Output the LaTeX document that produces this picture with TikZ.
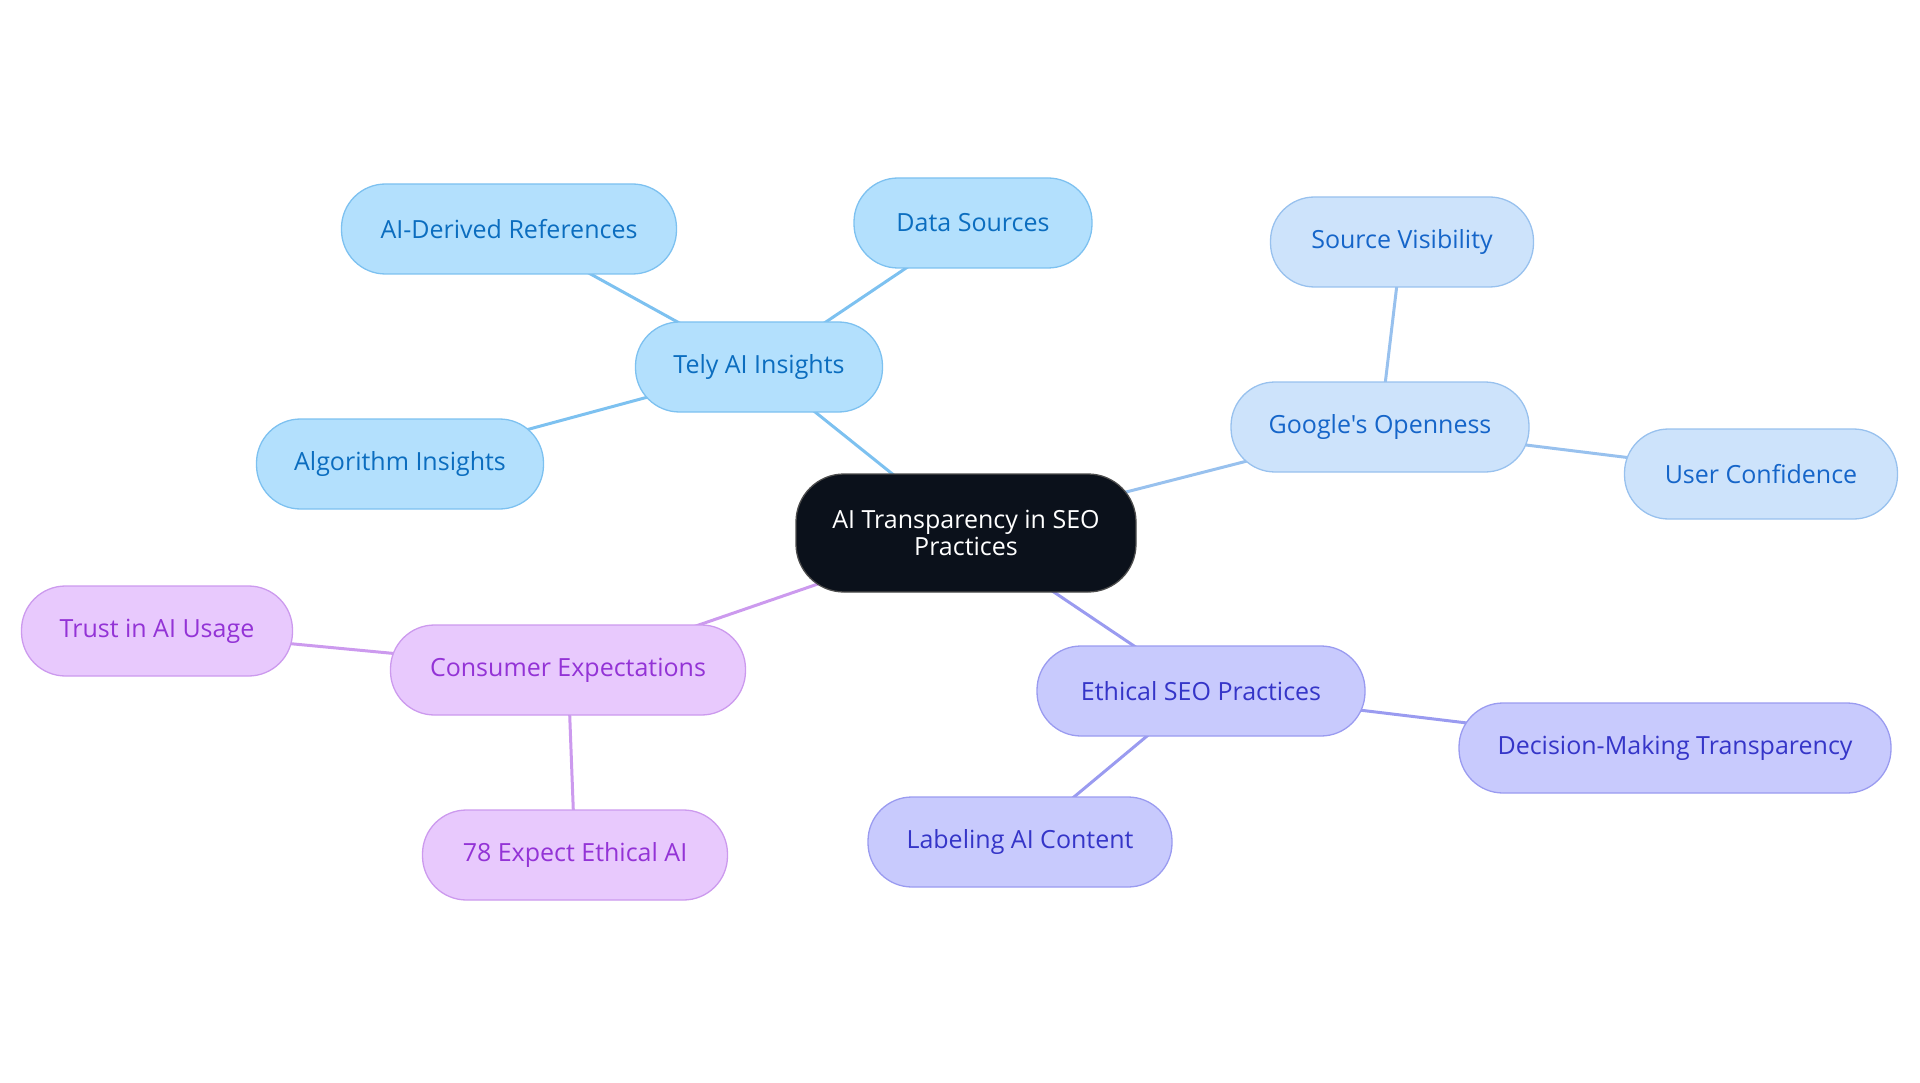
\documentclass[tikz,border=0pt]{standalone}
\usepackage{fontspec}
\setmainfont{Open Sans}[Ligatures=TeXOff]
\usetikzlibrary{backgrounds}
\definecolor{bfill}{HTML}{B3E0FD}
\definecolor{bline}{HTML}{7DC1F0}
\definecolor{btext}{HTML}{0B6DBF}
\definecolor{gfill}{HTML}{CDE3FB}
\definecolor{gline}{HTML}{98C1EE}
\definecolor{gtext}{HTML}{1565C9}
\definecolor{efill}{HTML}{C8CAFD}
\definecolor{eline}{HTML}{9A9BF0}
\definecolor{etext}{HTML}{3535C8}
\definecolor{cfill}{HTML}{E8C9FD}
\definecolor{cline}{HTML}{CC9AEE}
\definecolor{ctext}{HTML}{9333D6}
\definecolor{rootfill}{HTML}{0B111B}
\begin{document}
\begin{tikzpicture}[x=1pt,y=-1pt,
  every node/.style={font=\fontsize{25}{27}\selectfont, inner sep=0pt, minimum height=90pt, rounded corners=44pt, line width=1.3pt, align=center},
  rootnode/.style={fill=rootfill, draw=black!70, text=white, minimum height=118pt, rounded corners=48pt},
  bnode/.style={fill=bfill, draw=bline, text=btext},
  gnode/.style={fill=gfill, draw=gline, text=gtext},
  enode/.style={fill=efill, draw=eline, text=etext},
  cnode/.style={fill=cfill, draw=cline, text=ctext},
  link/.style={line width=3pt}
]
\useasboundingbox (0,0) rectangle (1920,1083);
\node[rootnode, minimum width=340pt] (root) at (966,533) {AI Transparency in SEO\\Practices};
\node[bnode, minimum width=247pt] (tely) at (759,367) {Tely AI Insights};
\node[bnode, minimum width=335pt] (aider) at (509,229) {AI-Derived References};
\node[bnode, minimum width=238pt] (data) at (973,223) {Data Sources};
\node[bnode, minimum width=287pt] (algo) at (400,464) {Algorithm Insights};
\node[gnode, minimum width=298pt] (google) at (1380,427) {Google's Openness};
\node[gnode, minimum width=263pt] (source) at (1402,242) {Source Visibility};
\node[gnode, minimum width=273pt] (user) at (1761,474) {User Confidence};
\node[enode, minimum width=328pt] (ethic) at (1201,691) {Ethical SEO Practices};
\node[enode, minimum width=432pt] (decis) at (1675,748) {Decision-Making Transparency};
\node[enode, minimum width=304pt] (label) at (1020,842) {Labeling AI Content};
\node[cnode, minimum width=355pt] (consu) at (568,670) {Consumer Expectations};
\node[cnode, minimum width=271pt] (trust) at (157,631) {Trust in AI Usage};
\node[cnode, minimum width=305pt] (expect) at (575,855) {78 Expect Ethical AI};
\begin{scope}[on background layer]
\draw[link, bline] (root.center) -- (tely.center);
\draw[link, bline] (tely.center) -- (aider.center);
\draw[link, bline] (tely.center) -- (data.center);
\draw[link, bline] (tely.center) -- (algo.center);
\draw[link, gline] (root.center) -- (google.center);
\draw[link, gline] (google.center) -- (source.center);
\draw[link, gline] (google.center) -- (user.center);
\draw[link, eline] (root.center) -- (ethic.center);
\draw[link, eline] (ethic.center) -- (decis.center);
\draw[link, eline] (ethic.center) -- (label.center);
\draw[link, cline] (root.center) -- (consu.center);
\draw[link, cline] (consu.center) -- (trust.center);
\draw[link, cline] (consu.center) -- (expect.center);
\end{scope}
\end{tikzpicture}
\end{document}
